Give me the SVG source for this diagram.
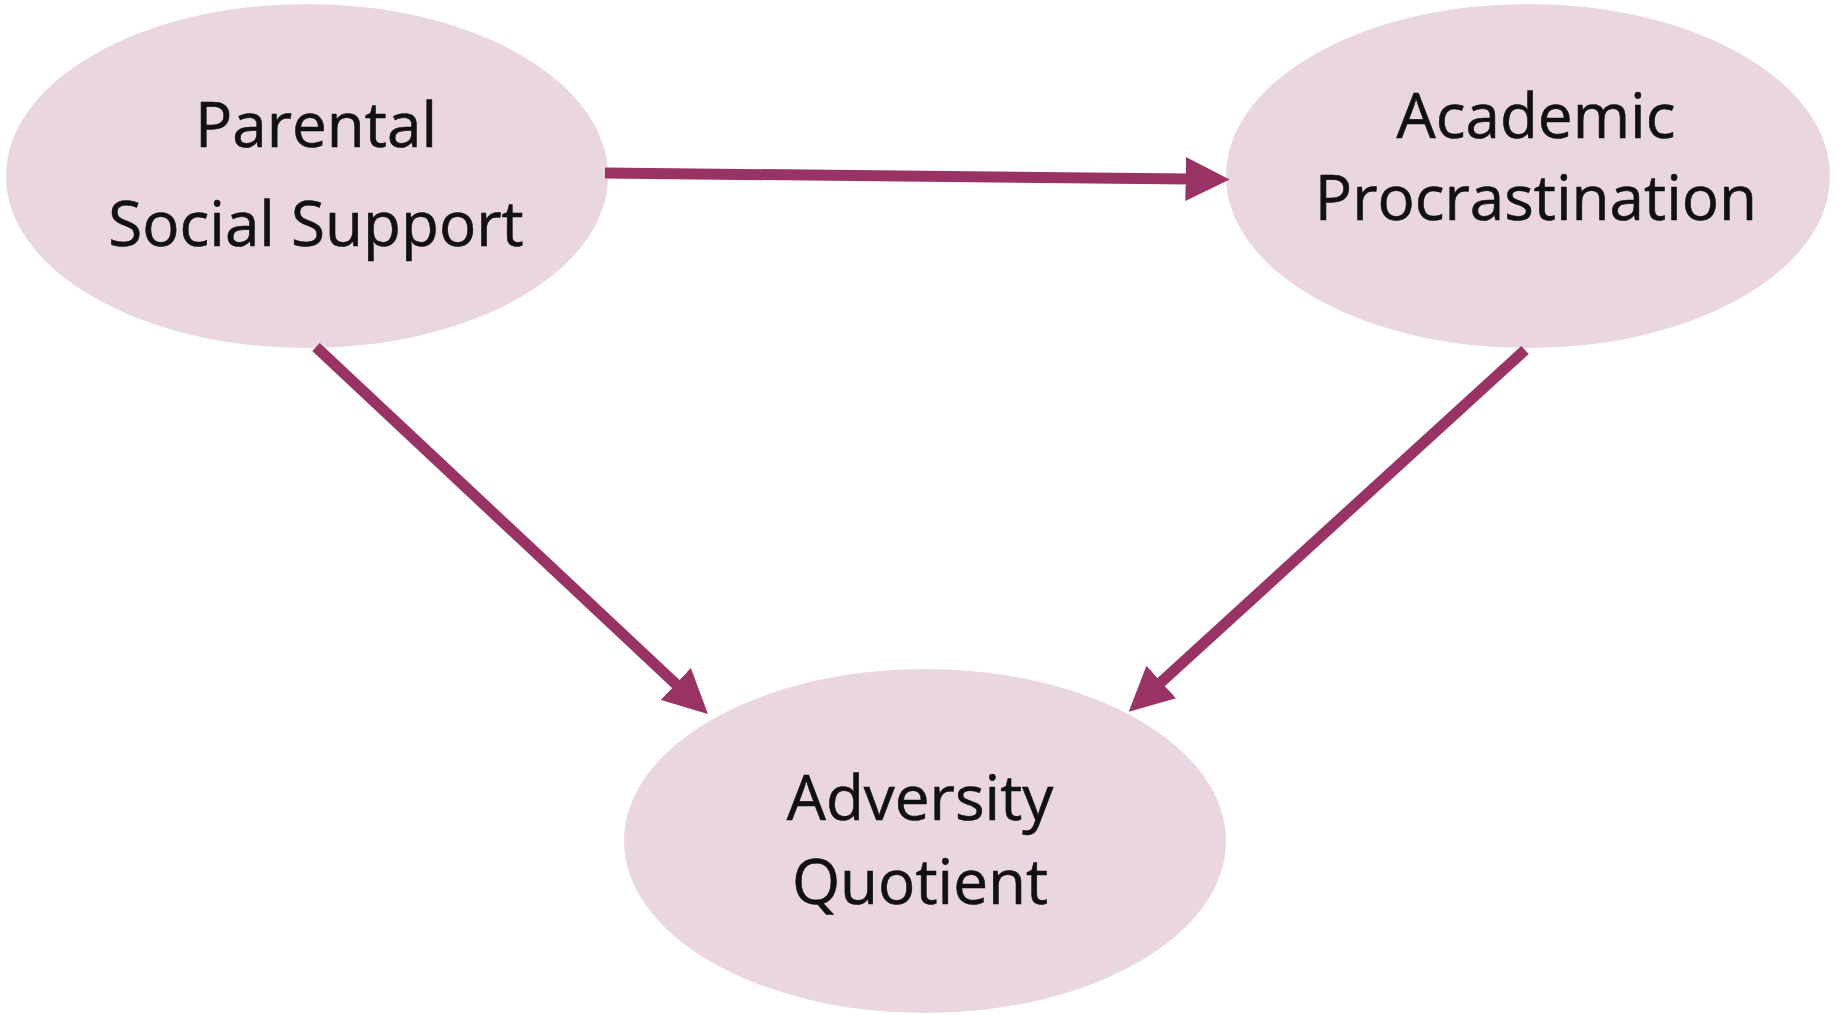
<svg xmlns="http://www.w3.org/2000/svg" width="1836" height="1015" viewBox="0 0 1836 1015">
<style>
.n{fill:#e9d6e1}
.t{font-family:"Open Sans","Noto Sans",sans-serif;font-size:62px;fill:#111;text-anchor:middle;stroke:#111;stroke-width:0.6}
.c{stroke:#993366;stroke-width:11;fill:none}
</style>
<defs><marker id="a" viewBox="0 0 10 10" refX="1" refY="5" markerWidth="4" markerHeight="4" orient="auto" markerUnits="strokeWidth"><path d="M0,0L10,5L0,10z" fill="#993366"/></marker></defs>
<rect width="1836" height="1015" fill="#fff"/>
<g id="n1"><ellipse class="n" cx="307" cy="176" rx="301" ry="172"/><text class="t" x="316" y="147">Parental</text><text class="t" x="316" y="246">Social Support</text></g>
<g id="n2"><ellipse class="n" cx="1528" cy="176" rx="302" ry="172"/><text class="t" x="1536" y="138">Academic</text><text class="t" x="1536" y="220">Procrastination</text></g>
<g id="n3"><ellipse class="n" cx="925" cy="841" rx="301" ry="172"/><text class="t" x="920" y="820">Adversity</text><text class="t" x="920" y="904">Quotient</text></g>
<g id="connectors">
<line class="c" x1="605" y1="173" x2="1190" y2="179" marker-end="url(#a)"/>
<line class="c" x1="316" y1="347" x2="679" y2="687" marker-end="url(#a)"/>
<line class="c" x1="1525" y1="350" x2="1158" y2="685" marker-end="url(#a)"/>
</g>
</svg>
